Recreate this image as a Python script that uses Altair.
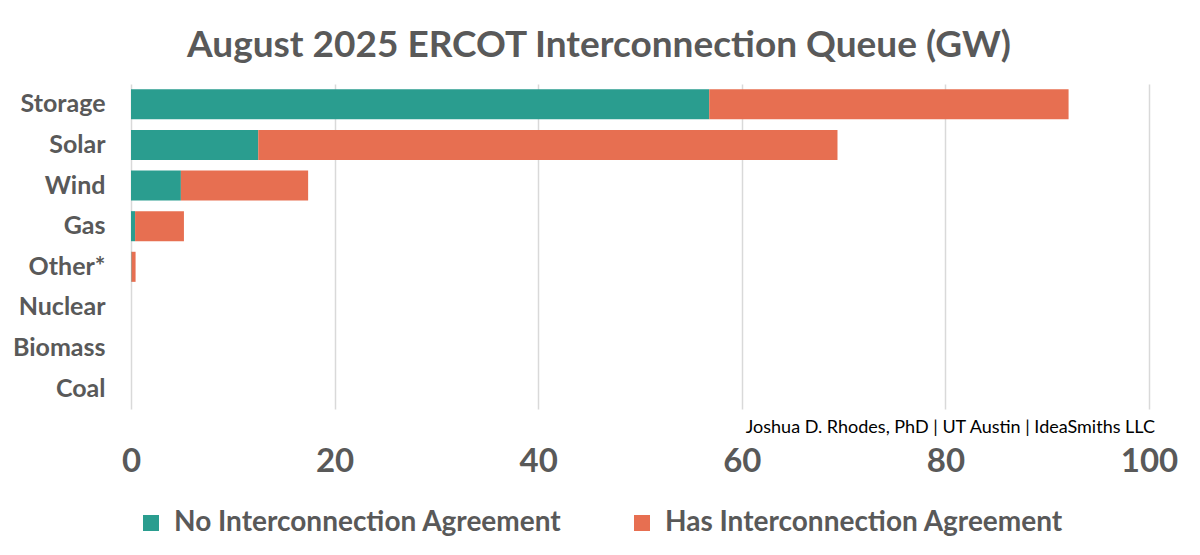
import altair as alt
import pandas as pd

categories = ["Storage", "Solar", "Wind", "Gas", "Other*", "Nuclear", "Biomass", "Coal"]
no_agreement = [56.8, 12.5, 4.9, 0.4, 0.05, 0.0, 0.0, 0.0]
has_agreement = [35.3, 56.9, 12.5, 4.8, 0.4, 0.0, 0.0, 0.0]
series = ["No Interconnection Agreement", "Has Interconnection Agreement"]
colors = ["#2a9d8f", "#e76f51"]
x_ticks = [0, 20, 40, 60, 80, 100]

rows = []
for i, c in enumerate(categories):
    rows.append({"cat": c, "series": series[0], "val": no_agreement[i], "ord": 0})
    rows.append({"cat": c, "series": series[1], "val": has_agreement[i], "ord": 1})
df = pd.DataFrame(rows)

FONT = "Lato"
GRAY = "#595959"
W, H = 1018, 325

bars = alt.Chart(df).mark_bar().encode(
    y=alt.Y("cat:N", sort=categories,
            scale=alt.Scale(paddingInner=0.26, paddingOuter=0.13),
            axis=alt.Axis(title=None, domain=False, ticks=False, labelPadding=26,
                          labelFontSize=25, labelFontWeight="bold", labelColor=GRAY,
                          labelFont=FONT)),
    x=alt.X("val:Q", stack="zero",
            scale=alt.Scale(domain=[0, 100], nice=False),
            axis=alt.Axis(title=None, values=x_ticks, domain=False, ticks=False,
                          labelPadding=36, labelFontSize=33, labelFontWeight="bold",
                          labelColor=GRAY, labelFont=FONT, labelFlush=False,
                          labelOverlap=False, gridColor="#d9d9d9", gridWidth=1.5)),
    color=alt.Color("series:N", sort=series,
                    scale=alt.Scale(domain=series, range=colors),
                    legend=alt.Legend(title=None, orient="none", direction="horizontal",
                                      legendX=6, legendY=H + 100,
                                      symbolType="square", symbolSize=256,
                                      symbolStrokeWidth=0, symbolOpacity=1,
                                      labelFontSize=28, labelFontWeight="bold",
                                      labelColor=GRAY, labelFont=FONT, labelLimit=0,
                                      columnPadding=66, labelOffset=9)),
    order=alt.Order("ord:Q"),
)

credit_df = pd.DataFrame({"t": ["Joshua D. Rhodes, PhD | UT Austin |  IdeaSmiths LLC"]})
credit = alt.Chart(credit_df).mark_text(
    align="right", baseline="middle", fontSize=18, font=FONT, color="#000000"
).encode(text="t:N", x=alt.value(W + 6), y=alt.value(H + 19))

chart = alt.layer(bars, credit).properties(
    width=W, height=H,
    autosize=alt.AutoSizeParams(type="none"),
    padding={"left": 123, "top": 76, "right": 43, "bottom": 136},
    title=alt.Title("August 2025 ERCOT Interconnection Queue (GW)", fontSize=37,
                    fontWeight="bold", color=GRAY, font=FONT, anchor="middle",
                    dx=-41, offset=19),
).configure_view(stroke=None)

chart.save("out.html", embed_options={"renderer": "svg", "actions": False})
